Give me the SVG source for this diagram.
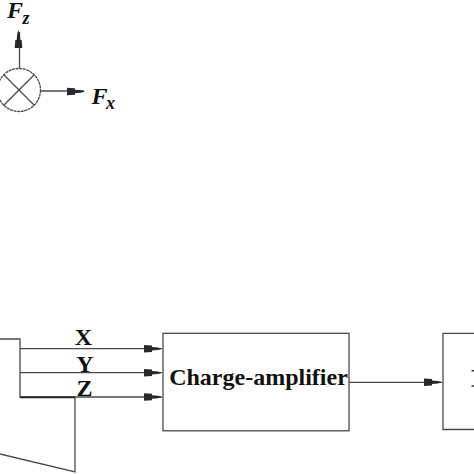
<svg xmlns="http://www.w3.org/2000/svg" width="474" height="474" viewBox="0 0 474 474">
<style>
.l{fill:none;stroke:#4a4a4a;stroke-width:1.3}
.h{fill:#26282e;stroke:none}
.t{font-family:"Liberation Serif",serif;font-weight:bold;fill:#111}
.f{font-style:italic;font-size:24px}
.s{font-size:18px}
</style>
<defs><path id="a" class="h" d="M0-3.800L8-3.200L8-1.800L14-1.300L18 0L14 1.300L8 1.800L8 3.200L0 3.800Z"/></defs>
<rect width="474" height="474" fill="#fff"/>
<g id="connectors">
<path class="l" d="M20 348.700H162M20 372.700H162M20 397H162M41 91H84M19.500 68V32M349 382.300H442"/>
<use href="#a" x="144" y="348.700"/><use href="#a" x="144" y="372.700"/><use href="#a" x="144" y="397"/>
<use href="#a" x="67" y="91.500"/><use href="#a" transform="translate(18.500 48) rotate(-90)"/>
<use href="#a" x="424" y="382.300"/>
</g>
<g id="force-symbol">
<circle class="l" cx="19" cy="90" r="21.500" stroke-dasharray="3 .6"/>
<path class="l" d="M3.500 74.500L34.500 105.500M34.500 74.500L3.500 105.500"/>
<text class="t f" x="7" y="18">F<tspan class="s" x="22.500" dy="5.500">z</tspan></text>
<text class="t f" x="91.500" y="104">F<tspan class="s" x="106" dy="5">x</tspan></text>
</g>
<g id="sensor">
<path class="l" d="M0 339H20V397H75V472L0 454"/>
<path d="M20 397.500H75" fill="none" stroke="#222" stroke-width="1.600"/>
<text class="t" x="83.500" y="345" font-size="24" text-anchor="middle">X</text>
<text class="t" x="85" y="372" font-size="24" text-anchor="middle">Y</text>
<text class="t" x="84.500" y="396" font-size="24" text-anchor="middle">Z</text>
</g>
<g id="charge-amplifier">
<rect class="l" x="163" y="333.300" width="186" height="97.500"/>
<text class="t" x="258.500" y="385" font-size="24" text-anchor="middle">Charge-amplifier</text>
</g>
<g id="next-block">
<path class="l" d="M474 333.300H443V429.500H474"/>
<path d="M471.500 370.700H474M471.500 386H474" stroke="#333" stroke-width="1.500" fill="none"/>
</g>
</svg>
